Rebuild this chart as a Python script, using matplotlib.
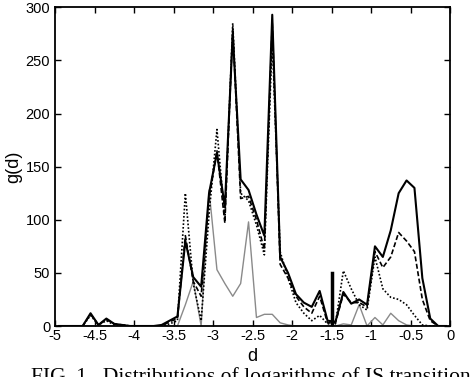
import numpy as np
import matplotlib
matplotlib.use("Agg")
import matplotlib.pyplot as plt

d = [-4.95, -4.85, -4.75, -4.65, -4.55, -4.45, -4.35, -4.25, -4.15, -4.05,
     -3.95, -3.85, -3.75, -3.65, -3.55, -3.45, -3.35, -3.25, -3.15, -3.05,
     -2.95, -2.85, -2.75, -2.65, -2.55, -2.45, -2.35, -2.25, -2.15, -2.05,
     -1.95, -1.85, -1.75, -1.65, -1.55, -1.45, -1.35, -1.25, -1.15, -1.05,
     -0.95, -0.85, -0.75, -0.65, -0.55, -0.45, -0.35, -0.25, -0.15, -0.05]

g_solid = [0, 0, 0, 0, 12, 1, 7, 2, 1, 0,
           0, 0, 0, 1, 5, 9, 80, 46, 37, 125,
           163, 112, 275, 138, 128, 105, 85, 293, 65, 50,
           30, 22, 18, 33, 5, 4, 32, 21, 25, 20,
           75, 65, 90, 125, 137, 130, 45, 7, 0, 0]

g_dashed = [0, 0, 0, 0, 11, 1, 6, 2, 1, 0,
            0, 0, 0, 0, 4, 7, 85, 42, 28, 120,
            165, 97, 280, 120, 122, 100, 72, 285, 58, 45,
            28, 18, 12, 28, 3, 3, 30, 22, 22, 18,
            70, 55, 65, 88, 80, 70, 25, 5, 0, 0]

g_dotted = [0, 0, 0, 0, 10, 1, 5, 1, 1, 0,
            0, 0, 0, 0, 2, 5, 125, 40, 5, 105,
            185, 100, 285, 125, 118, 95, 67, 270, 70, 45,
            22, 12, 5, 10, 2, 2, 52, 35, 20, 15,
            65, 35, 27, 25, 20, 10, 1, 0, 0, 0]

g_gray = [0, 0, 0, 0, 0, 0, 0, 0, 0, 0,
          0, 0, 0, 0, 0, 0, 20, 42, 0, 128,
          53, 40, 28, 40, 98, 8, 11, 11, 3, 1,
          0, 0, 0, 0, 0, 0, 2, 1, 20, 0,
          8, 1, 12, 5, 1, 0, 0, 0, 0, 0]

marker_x = -1.5
marker_top = 50

xticks = [-5, -4.5, -4, -3.5, -3, -2.5, -2, -1.5, -1, -0.5, 0]
xticklabels = ["-5", "-4.5", "-4", "-3.5", "-3", "-2.5", "-2", "-1.5", "-1", "-0.5", "0"]
yticks = [0, 50, 100, 150, 200, 250, 300]

plt.rcParams['font.family'] = ['Liberation Sans', 'DejaVu Sans']

fig = plt.figure(figsize=(4.74, 3.77), dpi=100)
ax = fig.add_axes([55/474, 1-326/377, 395/474, (326-7.3)/377])

ax.plot(d, g_gray, color='#8a8a8a', lw=1.0)
ax.plot(d, g_dotted, color='black', lw=1.2, linestyle=(0, (1, 1.2)))
ax.plot(d, g_dashed, color='black', lw=1.2, linestyle=(0, (3, 1.5)))
ax.plot(d, g_solid, color='black', lw=1.5)
ax.plot([marker_x, marker_x], [0, marker_top], color='black', lw=2.5)

ax.set_xlim(-5, 0)
ax.set_ylim(0, 300)
ax.set_xticks(xticks)
ax.set_xticklabels(xticklabels)
ax.set_yticks(yticks)
ax.tick_params(direction='in', top=True, right=True, length=4, width=1,
               labelsize=10.5)
ax.tick_params(axis='x', pad=2)
ax.tick_params(axis='y', pad=3.5)
for s in ax.spines.values():
    s.set_linewidth(1.3)

ax.set_xlabel('d', fontsize=13, labelpad=4)
ax.set_ylabel('g(d)', fontsize=13, labelpad=2)

fig.text(31/474, 1-367/377, 'FIG. 1.  Distributions of logarithms of IS transition',
         family=['Liberation Serif', 'DejaVu Serif'], fontsize=15.5,
         va='top', ha='left')

fig.savefig('out.png', dpi=100)
